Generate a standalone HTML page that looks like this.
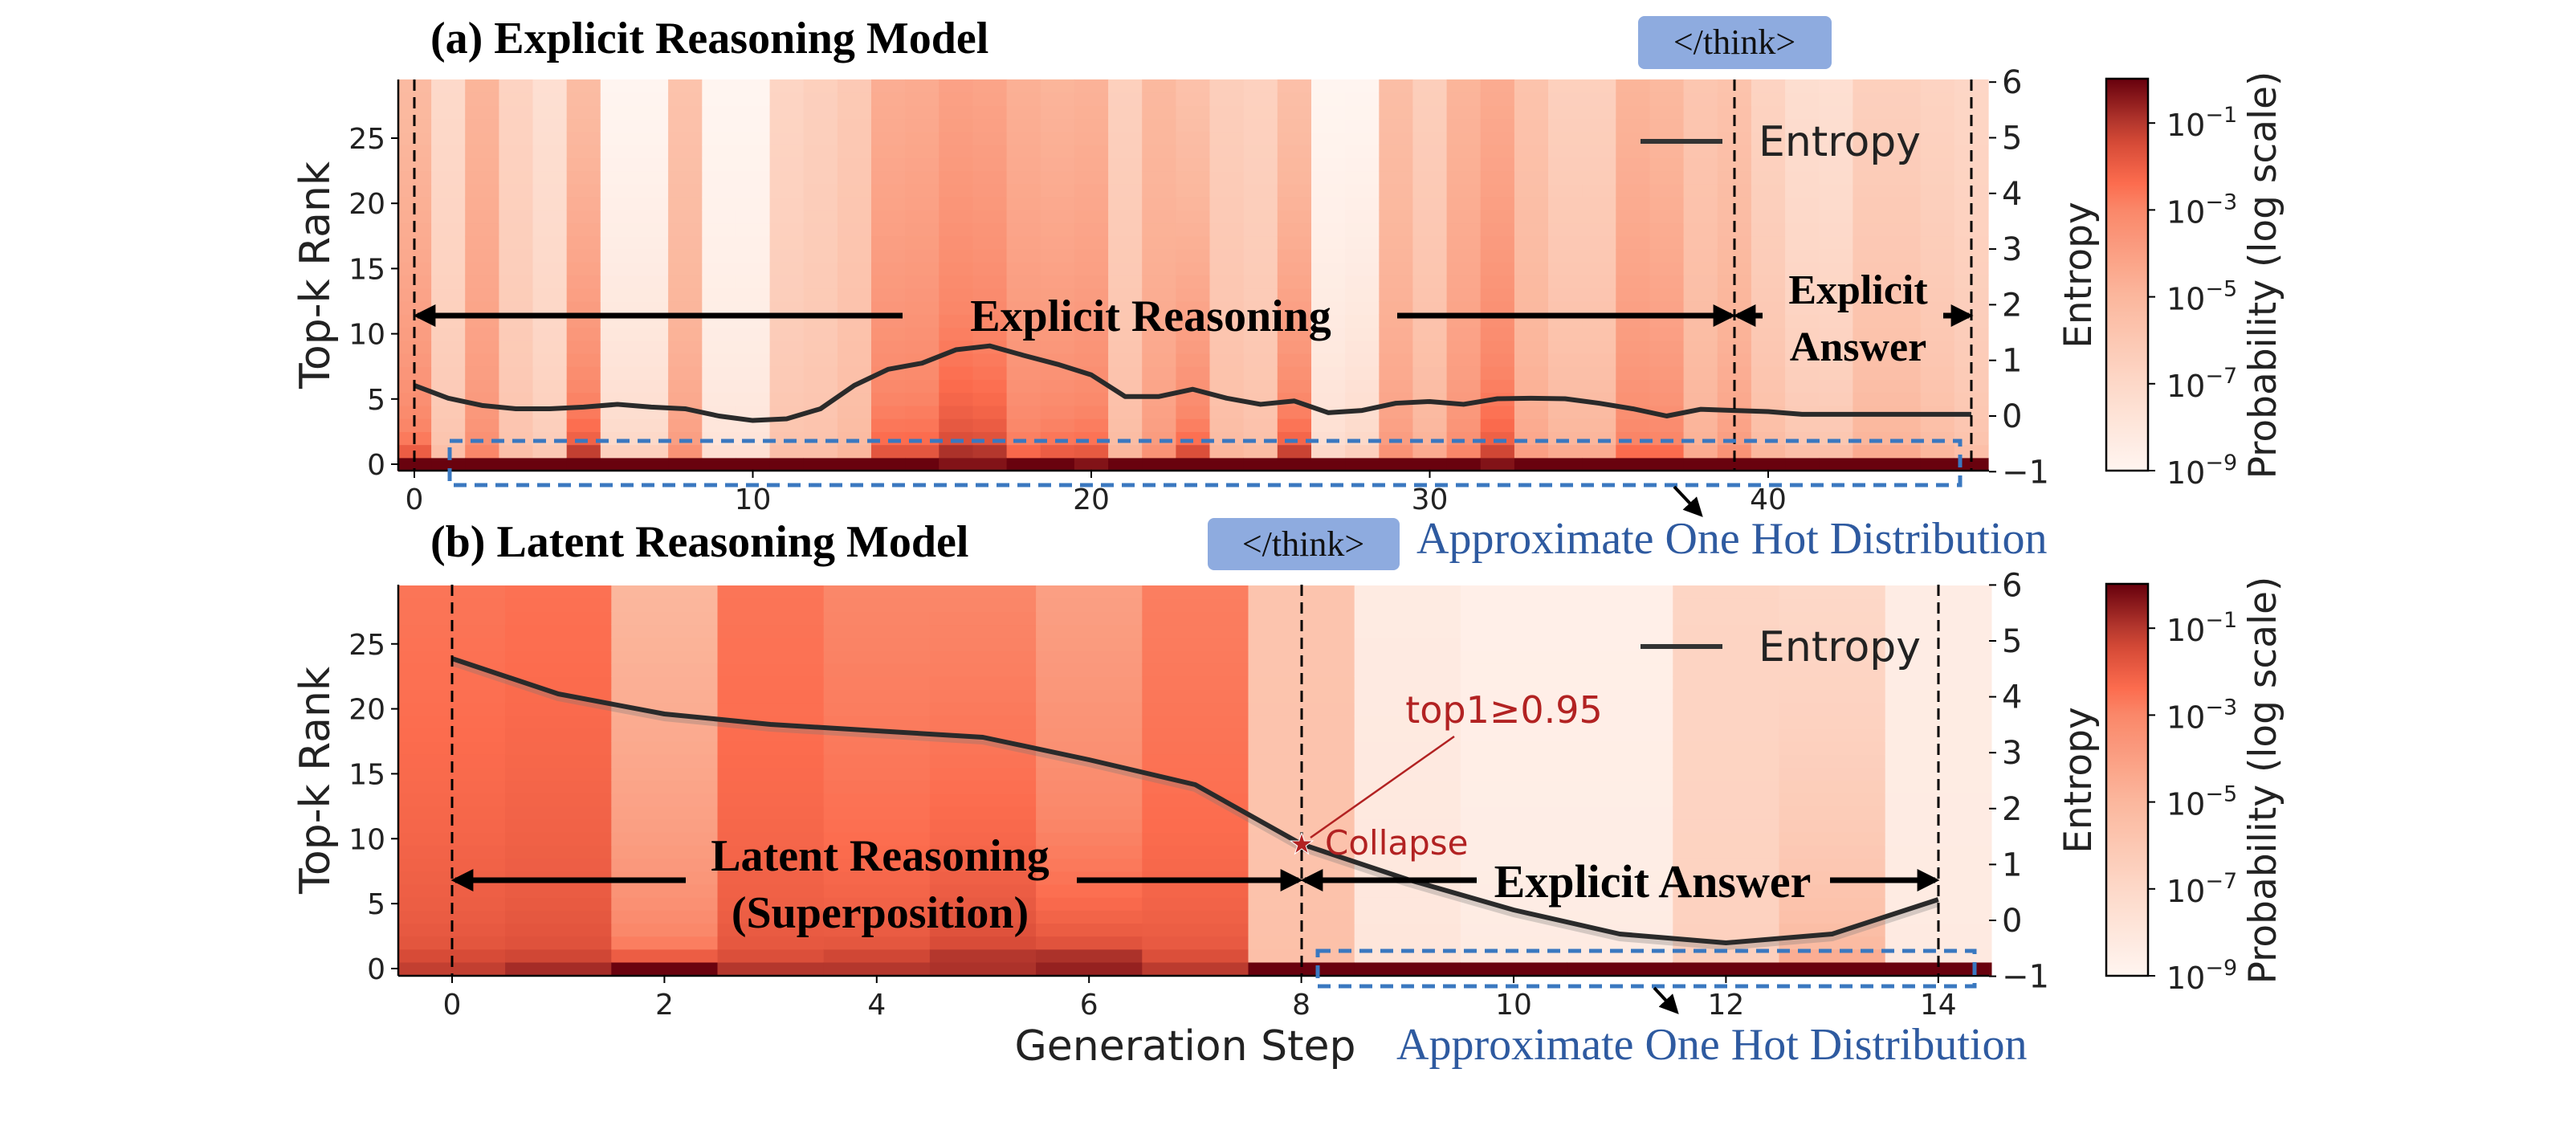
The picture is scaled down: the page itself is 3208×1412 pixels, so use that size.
<!DOCTYPE html>
<html><head><meta charset="utf-8">
<style>
html,body{margin:0;padding:0;background:#fff;}
svg{display:block;}
.t{font-family:"DejaVu Sans","Liberation Sans",sans-serif;fill:#222;}
.s{font-family:"Liberation Serif",serif;}
</style></head>
<body>
<svg id="sv" width="3208" height="1412" viewBox="0 0 3208 1412" xmlns="http://www.w3.org/2000/svg">
<defs>
<linearGradient id="cb" x1="0" y1="1" x2="0" y2="0"></linearGradient>
<marker id="ah" markerWidth="4" markerHeight="4" refX="3.2" refY="2" orient="auto" markerUnits="strokeWidth"><path d="M0,0 L4,2 L0,4 z" fill="#000"/></marker>
<marker id="ah2" markerWidth="6" markerHeight="6" refX="5" refY="3" orient="auto" markerUnits="strokeWidth"><path d="M0,0 L6,3 L0,6 z" fill="#000"/></marker>
</defs>
<g id="hmA"></g><g id="hmB"></g>

<text class="s" x="536" y="66" font-size="56" font-weight="bold">(a) Explicit Reasoning Model</text>
<text class="s" x="536" y="693" font-size="56" font-weight="bold">(b) Latent Reasoning Model</text>
<rect x="2040" y="20" width="241" height="66" rx="8" fill="#8eabdf"/>
<text class="s" x="2160" y="67" font-size="44" text-anchor="middle" fill="#111">&lt;/think&gt;</text>
<rect x="1504" y="645" width="239" height="65" rx="8" fill="#8eabdf"/>
<text class="s" x="1623" y="692" font-size="44" text-anchor="middle" fill="#111">&lt;/think&gt;</text>
<text class="s" x="1764" y="689" font-size="56" fill="#2e5aa0">Approximate One Hot Distribution</text>
<text class="s" x="1739" y="1319" font-size="56" fill="#2e5aa0">Approximate One Hot Distribution</text>
<text class="t" x="1476" y="1320" font-size="52" text-anchor="middle" fill="#111">Generation Step</text>

<g id="ov"></g>
</svg>
<script>
const NS="http://www.w3.org/2000/svg";
const CM=[[-9,[255,245,240]],[-7,[253,216,200]],[-5,[251,183,157]],[-3,[250,135,105]],[-2.4,[252,108,78]],[-1.5,[215,75,55]],[-1,[180,55,45]],[0,[103,0,13]]];
function cm(v){v=Math.max(-9,Math.min(0,v));for(let i=0;i<CM.length-1;i++){if(v<=CM[i+1][0]){const t=(v-CM[i][0])/(CM[i+1][0]-CM[i][0]);const a=CM[i][1],b=CM[i+1][1];return `rgb(${a.map((c,k)=>Math.round(c+(b[k]-c)*t)).join(',')})`;}}return 'rgb(103,0,13)';}
function el(p,tag,at,txt){const e=document.createElementNS(NS,tag);for(const k in at)e.setAttribute(k,at[k]);if(txt!==undefined)e.textContent=txt;p.appendChild(e);return e;}
const grad=document.getElementById('cb');
for(let i=0;i<=45;i++){const x=i/45;el(grad,'stop',{offset:x,'stop-color':cm(-9+9*x)});}
const ov=document.getElementById('ov');

const A={x0:516,dx:42.15,y0:578,dy:16.24,L:496,R:2477,T:99,B:586,e0:518,de:69.3};
const topA0=[-6.3,-8.2,-6,-7.8,-8.6,-6.4,-9,-9,-6.8,-9,-9,-7.9,-7.6,-7.2,-5.7,-5.6,-5.2,-5.3,-5.8,-6.0,-5.9,-7.6,-6.2,-6.7,-7.5,-7.7,-6.6,-9,-8.9,-6.5,-7.5,-6,-5.6,-6.8,-7.6,-7.6,-6,-6.2,-7,-6.8,-7.8,-8.5,-8.6,-7.6,-7.6,-7.8,-8];
const topA=topA0.map(v=>v<=-8.9?-9:v+1.1);
const r1A=[-2,-5.5,-3,-5.5,-6,-1.2,-6.5,-6.5,-3.5,-7.5,-7.5,-5.5,-5.5,-5,-1.8,-1.8,-0.9,-1.0,-2.3,-2.0,-1.9,-5,-3.5,-1.6,-5,-5.3,-1.3,-7,-6.5,-3.5,-4.5,-3,-1.4,-4,-4.5,-4.5,-2.4,-2.4,-4.5,-3.5,-5,-5.5,-5.5,-4.5,-4.5,-5,-5.5];
const gA=document.getElementById('hmA');
for(let c=0;c<47;c++){
 for(let r=0;r<30;r++){
  let v;
  if(r==0) v=(c==16||c==17||c==32||c==20)?-0.35:-0.03;
  else { const t=(r-1)/28; v=r1A[c]+(topA[c]-r1A[c])*Math.pow(t,0.45); }
  const x=A.x0+(c-0.5)*A.dx, y=A.y0-(r+0.5)*A.dy;
  el(gA,'rect',{x:x.toFixed(1),y:y.toFixed(1),width:(A.dx+0.6).toFixed(1),height:(A.dy+0.6).toFixed(1),fill:cm(v)});
 }
}
const B={x0:563,dx:132.2,y0:1206,dy:16.17,L:496,R:2477,T:728,B:1215,e0:1146,de:69.6};
const topB=[-2.6,-2.5,-5.0,-2.6,-3.0,-3.0,-4.0,-2.8,-5.8,-8.3,-8.6,-8.6,-6.8,-7.0,-8.4];
const r1B=[-1.5,-1.4,-2.0,-1.6,-1.4,-1.0,-0.9,-1.6,-5.5,-7.8,-8.2,-8.2,-6.5,-4.6,-8.2];
const r0B=[-1.2,-0.8,-0.05,-1.0,-1.0,-0.9,-0.6,-1.1,-0.02,-0.02,-0.02,-0.02,-0.02,-0.02,-0.02];
const gB=document.getElementById('hmB');
for(let c=0;c<15;c++){
 for(let r=0;r<30;r++){
  let v;
  if(r==0) v=r0B[c];
  else { const t=(r-1)/28; v=r1B[c]+(topB[c]-r1B[c])*Math.pow(t,0.4); }
  const x=B.x0+(c-0.5)*B.dx, y=B.y0-(r+0.5)*B.dy;
  el(gB,'rect',{x:x.toFixed(1),y:y.toFixed(1),width:(B.dx+0.6).toFixed(1),height:(B.dy+0.6).toFixed(1),fill:cm(v)});
 }
}

function axes(P,xt){
 el(ov,'line',{x1:P.L,y1:P.T,x2:P.L,y2:P.B,stroke:'#000','stroke-width':2.5});
 el(ov,'line',{x1:P.L,y1:P.B,x2:P.R,y2:P.B,stroke:'#000','stroke-width':2.5});
 for(const k of [0,5,10,15,20,25]){const y=P.y0-k*P.dy;el(ov,'line',{x1:P.L-9,y1:y,x2:P.L,y2:y,stroke:'#000','stroke-width':2});
  el(ov,'text',{class:'t',x:P.L-16,y:y+13,'font-size':36,'text-anchor':'end'},String(k));}
 for(const k of xt){const x=P.x0+k*P.dx;el(ov,'line',{x1:x,y1:P.B,x2:x,y2:P.B+9,stroke:'#000','stroke-width':2});
  el(ov,'text',{class:'t',x:x,y:P.B+48,'font-size':36,'text-anchor':'middle'},String(k));}
 for(let e=-1;e<=6;e++){const y=P.e0-e*P.de;el(ov,'line',{x1:P.R,y1:y,x2:P.R+9,y2:y,stroke:'#000','stroke-width':2});
  el(ov,'text',{class:'t',x:P.R+16,y:y+14,'font-size':40},e<0?'\u22121':String(e));}
 const cy=(P.T+P.B)/2;
 el(ov,'text',{class:'t',x:0,y:0,'font-size':52,'text-anchor':'middle',transform:`translate(${P.L-86},${cy}) rotate(-90)`},'Top-k Rank');
 el(ov,'text',{class:'t',x:0,y:0,'font-size':47,'text-anchor':'middle',transform:`translate(${2604},${cy}) rotate(-90)`},'Entropy');
 el(ov,'rect',{x:2623,y:P.T-1,width:52,height:P.B-P.T+1,fill:'url(#cb)',stroke:'#000','stroke-width':2.5});
 for(const k of [1,3,5,7,9]){const y=P.B-(9-k)*54.1;el(ov,'line',{x1:2675,y1:y,x2:2684,y2:y,stroke:'#000','stroke-width':2});
  const t=el(ov,'text',{class:'t',x:2698,y:y+16,'font-size':38});
  t.appendChild(document.createTextNode('10'));el(t,'tspan',{dy:-17,'font-size':27},'\u2212'+k);}
 el(ov,'text',{class:'t',x:0,y:0,'font-size':47,'text-anchor':'middle',transform:`translate(${2834},${cy}) rotate(-90)`},'Probability (log scale)');
 el(ov,'line',{x1:2043,y1:P.T+77,x2:2145,y2:P.T+77,stroke:'#333','stroke-width':6});
 el(ov,'text',{class:'t',x:2190,y:P.T+95,'font-size':52,fill:'#111'},'Entropy');
}
axes(A,[0,10,20,30,40]);
axes(B,[0,2,4,6,8,10,12,14]);

const eA=[.55,.32,.19,.13,.13,.16,.21,.16,.13,0,-.08,-.05,.13,.55,.84,.95,1.19,1.26,1.09,.93,.74,.35,.35,.48,.32,.21,.27,.06,.10,.23,.26,.21,.31,.32,.31,.23,.13,0,.12,.10,.08,.03,.03,.03,.03,.03,.03];
el(ov,'polyline',{points:eA.map((e,i)=>`${A.x0+i*A.dx},${A.e0-e*A.de}`).join(' '),fill:'none',stroke:'#2a2a2a','stroke-width':6,'stroke-linejoin':'round'});
const yB=[820,864,889,902,910,918,946,977,1051,1095,1133,1163,1174,1163,1120];
el(ov,'polyline',{points:yB.map((y,i)=>`${B.x0+i*B.dx},${y+4}`).join(' '),fill:'none',stroke:'rgba(120,120,120,0.3)','stroke-width':10,'stroke-linejoin':'round'});
el(ov,'polyline',{points:yB.map((y,i)=>`${B.x0+i*B.dx},${y}`).join(' '),fill:'none',stroke:'#2a2a2a','stroke-width':6,'stroke-linejoin':'round'});

for(const x of [516,2160,2455]) el(ov,'line',{x1:x,y1:A.T,x2:x,y2:A.B,stroke:'#000','stroke-width':3,'stroke-dasharray':'14,8'});
for(const x of [563,1621,2414]) el(ov,'line',{x1:x,y1:B.T,x2:x,y2:B.B,stroke:'#000','stroke-width':3,'stroke-dasharray':'14,8'});

function arr(x1,y1,x2,y2){el(ov,'line',{x1,y1,x2,y2,stroke:'#000','stroke-width':7,'marker-end':'url(#ah)'});}
arr(1124,393,520,393); arr(1740,393,2156,393); arr(2195,393,2164,393); arr(2420,393,2452,393);
el(ov,'text',{class:'s',x:1433,y:412,'font-size':56,'font-weight':'bold','text-anchor':'middle'},'Explicit Reasoning');
el(ov,'text',{class:'s',x:2314,y:378,'font-size':52,'font-weight':'bold','text-anchor':'middle'},'Explicit');
el(ov,'text',{class:'s',x:2314,y:449,'font-size':52,'font-weight':'bold','text-anchor':'middle'},'Answer');
arr(854,1096,567,1096); arr(1341,1096,1617,1096); arr(1839,1096,1625,1096); arr(2279,1096,2410,1096);
el(ov,'text',{class:'s',x:1096,y:1084,'font-size':56,'font-weight':'bold','text-anchor':'middle'},'Latent Reasoning');
el(ov,'text',{class:'s',x:1096,y:1155,'font-size':56,'font-weight':'bold','text-anchor':'middle'},'(Superposition)');
el(ov,'text',{class:'s',x:2058,y:1117,'font-size':58,'font-weight':'bold','text-anchor':'middle','xml:space':'preserve'},'Explicit  Answer');

el(ov,'rect',{x:560,y:549,width:1881,height:55,fill:'none',stroke:'#3a78c0','stroke-width':5,'stroke-dasharray':'16,10'});
el(ov,'rect',{x:1641,y:1184,width:818,height:44,fill:'none',stroke:'#3a78c0','stroke-width':5,'stroke-dasharray':'16,10'});
el(ov,'line',{x1:2085,y1:606,x2:2118,y2:641,stroke:'#000','stroke-width':4,'marker-end':'url(#ah2)'});
el(ov,'line',{x1:2060,y1:1230,x2:2088,y2:1260,stroke:'#000','stroke-width':4,'marker-end':'url(#ah2)'});

el(ov,'line',{x1:1811,y1:917,x2:1632,y2:1043,stroke:'#b22222','stroke-width':2.5});
el(ov,'text',{x:1621,y:1063,'font-size':36,'text-anchor':'middle',fill:'#b22222',stroke:'#fff','stroke-width':1,'font-family':'DejaVu Sans'},'\u2605');
el(ov,'text',{class:'t',x:1650,y:1064,'font-size':42,style:'fill:#b22222'},'Collapse');
el(ov,'text',{class:'t',x:1873,y:900,'font-size':46,'text-anchor':'middle',style:'fill:#b22222'},'top1\u22650.95');
</script>
</body></html>
